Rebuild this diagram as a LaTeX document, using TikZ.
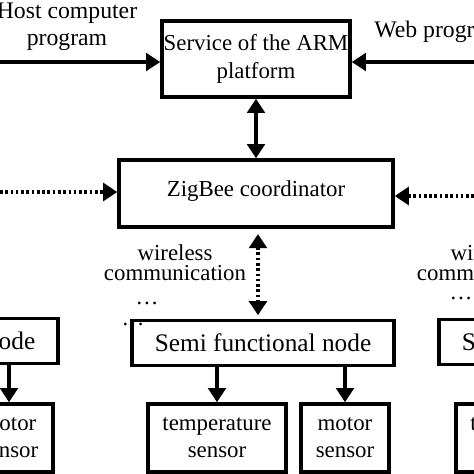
\documentclass[tikz,border=0pt]{standalone}
\usepackage{fontspec}
\setmainfont{Liberation Serif}
\usetikzlibrary{arrows.meta, positioning, calc}
\tikzset{
  every picture/.style={x=0.02cm, y=-0.02cm},
  caja/.style={draw=black, line width=2pt, inner sep=0pt, align=center,
               font=\fontsize{13}{15.5}\selectfont},
  etiqueta/.style={align=center, inner sep=0pt, font=\fontsize{13}{11.5}\selectfont},
  flecha/.style={-{Triangle[length=8pt, width=10pt]}, line width=1.8pt},
  flechab/.style={{Triangle[length=8pt, width=10pt]}-{Triangle[length=8pt, width=10pt]}, line width=1.8pt},
  flechad/.style={-{Triangle[length=8pt, width=10pt]}, line width=2pt, dash pattern=on 1.5pt off 1.5pt},
  flechadb/.style={{Triangle[length=8pt, width=10pt]}-{Triangle[length=8pt, width=10pt]}, line width=2pt, dash pattern=on 1.5pt off 1.5pt},
}
\begin{document}
\begin{tikzpicture}
  \useasboundingbox (0,0) rectangle (474,474);
  \clip (0,0) rectangle (474,474);
  % boxes
  \node[caja, minimum width=3.76cm, minimum height=1.52cm] (arm) at (256,59) {Service of the ARM\\platform};
  \node[caja, minimum width=5.48cm, minimum height=1.34cm, text depth=0.35cm, text height=0.45cm] (zigbee) at (256,193.5) {ZigBee coordinator};
  \node[caja, minimum width=5.24cm, minimum height=0.9cm, font=\fontsize{14.4}{17}\selectfont] (semi) at (263,343) {Semi functional node};
  \node[caja, minimum width=5.24cm, minimum height=0.9cm, font=\fontsize{14.4}{17}\selectfont] (semiL) at (-73,341) {Semi functional node};
  \node[caja, minimum width=5.24cm, minimum height=0.9cm, font=\fontsize{14.4}{17}\selectfont] (semiR) at (570,342) {Semi functional node};
  \node[caja, minimum width=2.76cm, minimum height=1.36cm] (temp) at (217,438) {temperature\\sensor};
  \node[caja, minimum width=1.76cm, minimum height=1.36cm] (motor) at (345,438) {motor\\sensor};
  \node[caja, minimum width=1.76cm, minimum height=1.36cm] (motorL) at (9,438) {motor\\sensor};
  \node[caja, minimum width=2.76cm, minimum height=1.36cm] (tempR) at (525,438) {temperature\\sensor};
  % labels
  \node[etiqueta, font=\fontsize{13.5}{15.5}\selectfont] (host) at (67,27) {Host computer\\program};
  \node[etiqueta, anchor=west, font=\fontsize{13.5}{15.5}\selectfont] (web) at (374,32) {Web program};
  \node[etiqueta] (wl) at (175,263) {wireless\\communication};
  \node[etiqueta] (wlR) at (488,263) {wireless\\communication};
  \node[etiqueta] (pts1) at (147,303) {\ldots};
  \node[etiqueta] (pts2) at (133,324) {\ldots};
  \node[etiqueta] (pts3) at (461,298) {\ldots};
  % connectors
  \coordinate (hostin) at (0,62);
  \coordinate (webin) at (474,62);
  \coordinate (izq) at (0,192);
  \coordinate (der) at (474,196);
  \coordinate (radio) at (258,0);
  \draw[flecha] (hostin) -- (hostin -| arm.west);
  \draw[flecha] (webin) -- (webin -| arm.east);
  \draw[flechab] (arm.south) -- (zigbee.north);
  \draw[flechad] (izq) -- (izq -| zigbee.west);
  \draw[flechad] (der) -- (der -| zigbee.east);
  \draw[flechadb, shorten <=3pt, shorten >=2pt] (zigbee.south -| radio) -- (semi.north -| radio);
  \draw[flecha] (semi.south -| temp) -- (temp.north);
  \draw[flecha] (semi.south -| motor) -- (motor.north);
  \draw[flecha] (semiL.south -| motorL) -- (motorL.north);
\end{tikzpicture}
\end{document}
